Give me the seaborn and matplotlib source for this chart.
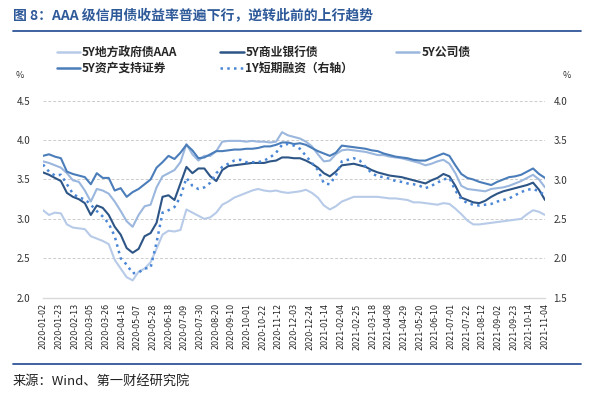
import numpy as np
import pandas as pd
import matplotlib
matplotlib.use('Agg')
import matplotlib.pyplot as plt
import seaborn as sns
from matplotlib.lines import Line2D

sns.set_theme(style='white')
plt.rcParams['font.family'] = ['Noto Sans CJK SC', 'DejaVu Sans']
plt.rcParams['axes.unicode_minus'] = False

# sample dates (every 8 days, 2020-01-02 .. 2021-11-04)
dates = pd.date_range('2020-01-02', periods=85, freq='8D')
# x tick labels every 21 days
tick_dates = pd.date_range('2020-01-02', '2021-11-04', freq='21D')

# yields, %, left axis
muni_5y = [3.11, 3.05, 3.08, 3.07, 2.93, 2.89, 2.88, 2.87, 2.78, 2.75,
           2.72, 2.68, 2.48, 2.37, 2.26, 2.22, 2.33, 2.37, 2.45, 2.62,
           2.80, 2.85, 2.84, 2.86, 3.12, 3.08, 3.04, 3.00, 3.02, 3.08,
           3.18, 3.22, 3.27, 3.30, 3.33, 3.36, 3.38, 3.36, 3.35, 3.36,
           3.34, 3.33, 3.34, 3.35, 3.37, 3.33, 3.27, 3.17, 3.12, 3.16,
           3.22, 3.25, 3.28, 3.28, 3.28, 3.28, 3.28, 3.27, 3.26, 3.26,
           3.25, 3.24, 3.21, 3.21, 3.20, 3.19, 3.18, 3.20, 3.19, 3.13,
           3.06, 2.98, 2.93, 2.93, 2.94, 2.95, 2.96, 2.97, 2.98, 2.99,
           3.00, 3.06, 3.11, 3.09, 3.05]
bank_5y = [3.59, 3.56, 3.52, 3.48, 3.33, 3.28, 3.25, 3.20, 3.05, 3.17,
           3.14, 3.05, 2.90, 2.80, 2.63, 2.57, 2.62, 2.78, 2.82, 2.95,
           3.28, 3.30, 3.24, 3.45, 3.66, 3.58, 3.64, 3.64, 3.54, 3.48,
           3.62, 3.67, 3.68, 3.69, 3.70, 3.71, 3.71, 3.71, 3.73, 3.74,
           3.78, 3.78, 3.77, 3.77, 3.74, 3.70, 3.65, 3.58, 3.54, 3.60,
           3.68, 3.69, 3.70, 3.68, 3.66, 3.62, 3.59, 3.57, 3.55, 3.54,
           3.53, 3.51, 3.49, 3.47, 3.45, 3.49, 3.52, 3.57, 3.54, 3.42,
           3.27, 3.24, 3.21, 3.20, 3.23, 3.28, 3.32, 3.35, 3.37, 3.39,
           3.41, 3.43, 3.46, 3.37, 3.24]
corp_5y = [3.73, 3.71, 3.68, 3.65, 3.58, 3.49, 3.47, 3.36, 3.22, 3.38,
           3.36, 3.32, 3.22, 3.10, 2.97, 2.90, 3.05, 3.16, 3.18, 3.40,
           3.54, 3.58, 3.62, 3.72, 3.95, 3.82, 3.74, 3.80, 3.80, 3.86,
           3.98, 3.99, 3.99, 3.99, 3.98, 3.99, 3.98, 3.98, 3.97, 3.98,
           4.10, 4.06, 4.04, 4.02, 3.98, 3.92, 3.82, 3.73, 3.74, 3.82,
           3.87, 3.88, 3.87, 3.86, 3.85, 3.83, 3.81, 3.81, 3.79, 3.78,
           3.77, 3.75, 3.73, 3.71, 3.68, 3.70, 3.73, 3.75, 3.70, 3.58,
           3.42, 3.38, 3.37, 3.36, 3.35, 3.38, 3.39, 3.40, 3.42, 3.45,
           3.48, 3.52, 3.56, 3.50, 3.40]
abs_5y = [3.80, 3.82, 3.79, 3.77, 3.60, 3.57, 3.55, 3.53, 3.44, 3.58,
          3.52, 3.52, 3.36, 3.39, 3.28, 3.34, 3.38, 3.44, 3.50, 3.65,
          3.72, 3.80, 3.76, 3.84, 3.94, 3.87, 3.77, 3.78, 3.82, 3.86,
          3.86, 3.87, 3.88, 3.88, 3.89, 3.89, 3.90, 3.92, 3.92, 3.94,
          3.97, 3.97, 3.95, 3.96, 3.94, 3.90, 3.86, 3.83, 3.80, 3.84,
          3.93, 3.92, 3.91, 3.90, 3.89, 3.87, 3.86, 3.83, 3.81, 3.79,
          3.78, 3.77, 3.75, 3.74, 3.74, 3.77, 3.80, 3.83, 3.80, 3.68,
          3.57, 3.52, 3.50, 3.47, 3.45, 3.43, 3.47, 3.50, 3.53, 3.54,
          3.56, 3.60, 3.64, 3.57, 3.52]
# 1Y short-term financing bill, right axis
cp_1y = [3.19, 3.10, 3.05, 3.06, 2.94, 2.82, 2.77, 2.75, 2.68, 2.60,
         2.53, 2.44, 2.28, 2.00, 1.92, 1.81, 1.82, 1.87, 1.88, 2.20,
         2.58, 2.61, 2.65, 2.78, 3.02, 2.92, 2.88, 2.90, 2.96, 3.08,
         3.16, 3.20, 3.24, 3.25, 3.22, 3.22, 3.22, 3.24, 3.28, 3.34,
         3.44, 3.45, 3.43, 3.39, 3.30, 3.21, 3.12, 2.95, 2.94, 3.05,
         3.23, 3.25, 3.27, 3.24, 3.16, 3.08, 3.04, 3.03, 3.01, 2.98,
         2.97, 2.95, 2.94, 2.92, 2.89, 2.92, 2.96, 3.00, 3.02, 2.86,
         2.75, 2.70, 2.68, 2.67, 2.68, 2.69, 2.72, 2.74, 2.76, 2.80,
         2.84, 2.87, 2.88, 2.85, 2.80]

labels = ['5Y地方政府债AAA', '5Y商业银行债', '5Y公司债', '5Y资产支持证券', '1Y短期融资（右轴）']
colors = ['#B7CBE8', '#2D5586', '#9BB7DD', '#4A7DBA', '#4A86D6']

W, H = 594, 397
fig = plt.figure(figsize=(W / 100, H / 100), dpi=100)
ax = fig.add_axes([43 / W, 1 - 297.7 / H, 502 / W, 197 / H])
ax2 = ax.twinx()

left_series = [muni_5y, bank_5y, corp_5y, abs_5y]
for vals, c in zip(left_series, colors[:4]):
    sns.lineplot(x=dates, y=vals, ax=ax, color=c, linewidth=1.5)
sns.lineplot(x=dates, y=cp_1y, ax=ax2, color=colors[4], linewidth=1.8,
             linestyle=(0, (1, 1.7)))

ax.set_ylim(2.0, 4.5)
ax2.set_ylim(1.5, 4.0)
ax.set_yticks(np.arange(2.0, 4.51, 0.5))
ax2.set_yticks(np.arange(1.5, 4.01, 0.5))
ax.set_yticklabels([f'{v:.1f}' for v in np.arange(2.0, 4.51, 0.5)])
ax2.set_yticklabels([f'{v:.1f}' for v in np.arange(1.5, 4.01, 0.5)])
ax.set_xlim(dates[0], dates[-1])
ax.set_xticks(tick_dates)
ax.set_xticklabels([d.strftime('%Y-%m-%d') for d in tick_dates], rotation=90,
                   fontsize=5.8, family='DejaVu Sans')
ax.set_xlabel('')
ax.set_ylabel('')
ax2.set_ylabel('')

ax.yaxis.grid(True, linestyle=(0, (3, 2)), color='#CCCCCC', linewidth=0.7)
ax.xaxis.grid(False)
ax2.grid(False)
for a in (ax, ax2):
    for s in a.spines.values():
        s.set_visible(False)
ax.spines['bottom'].set_visible(True)
ax.spines['bottom'].set_color('#D9D9D9')
ax.spines['bottom'].set_linewidth(1.0)
ax.tick_params(axis='y', length=0, pad=9, labelsize=7, labelcolor='#333333')
ax2.tick_params(axis='y', length=0, pad=6, labelsize=7, labelcolor='#333333')
ax.tick_params(axis='x', length=0, pad=4, labelcolor='#222222')

# legend
handles = [Line2D([], [], color=c, lw=1.8) for c in colors[:4]]
handles.append(Line2D([], [], color=colors[4], lw=1.8, linestyle=(0, (1, 1.7))))
order = [0, 3, 1, 4, 2]
fig.legend([handles[i] for i in order], [labels[i] for i in order], ncol=3,
           loc='upper left', bbox_to_anchor=(52 / W, 1 - 41 / H), frameon=False,
           prop={'size': 8.5, 'weight': 'bold'}, handlelength=2.0,
           handletextpad=0.15, columnspacing=3.6, labelspacing=0.25,
           borderaxespad=0)

# title, rules, units, source
fig.text(13 / W, 1 - 16 / H, '图 8：AAA 级信用债收益率普遍下行，逆转此前的上行趋势',
         fontsize=10, fontweight='bold', color='#2F5A9A', va='center', ha='left')
fig.add_artist(Line2D([13 / W, 581 / W], [1 - 31 / H] * 2, color='#2F5597', lw=1.3))
fig.add_artist(Line2D([13 / W, 581 / W], [1 - 364 / H] * 2, color='#2F5597', lw=1.3))
fig.text(20 / W, 1 - 75 / H, '%', fontsize=6.5, color='#333333', ha='center', va='center')
fig.text(567 / W, 1 - 75 / H, '%', fontsize=6.5, color='#333333', ha='center', va='center')
fig.text(13 / W, 1 - 381 / H, '来源：Wind、第一财经研究院', fontsize=9.5,
         color='#222222', ha='left', va='center')

fig.savefig('out.png', dpi=100)
